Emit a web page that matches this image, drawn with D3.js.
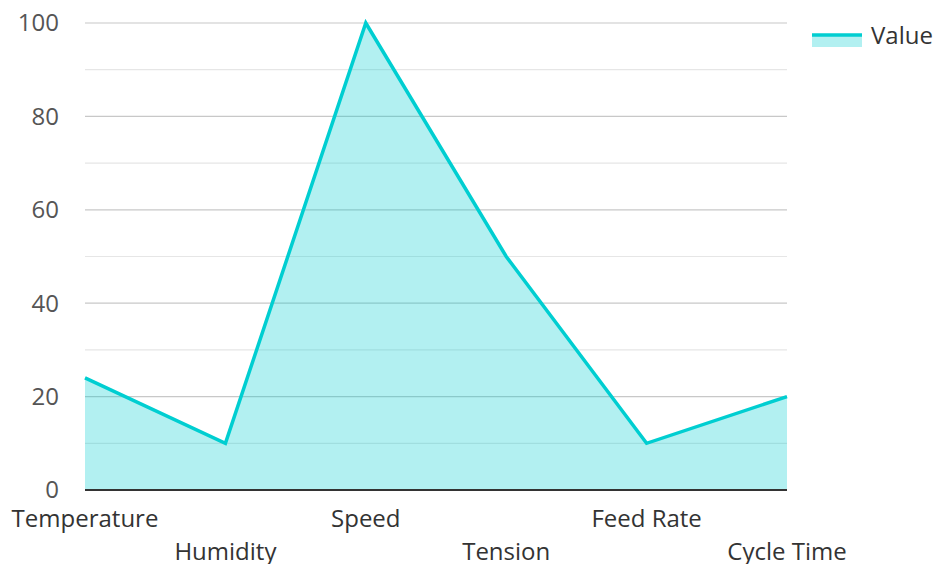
<!DOCTYPE html>
<html><head><meta charset="utf-8">
<script src="https://cdn.jsdelivr.net/npm/d3@7"></script>
<style>body{margin:0;background:#fff;font-family:"Open Sans",sans-serif;}</style>
</head><body><svg id="c" width="937" height="564"></svg>
<script>
const categories = ["Temperature","Humidity","Speed","Tension","Feed Rate","Cycle Time"];
const values = [24,10,100,50,10,20];
const yTicks = [0,20,40,60,80,100];
const yMinor = [10,30,50,70,90];
const seriesName = "Value";

const svg = d3.select("#c");
const m = {l:85, r:150, t:23, b:74};
const W = 937, H = 564;
const x = d3.scalePoint().domain(categories).range([m.l, W-m.r]);
const y = d3.scaleLinear().domain([0,100]).range([H-m.b, m.t]);
const color = "#00CED1";

const g = svg.append("g");
g.selectAll(".minor").data(yMinor).join("line")
 .attr("x1", m.l).attr("x2", W-m.r).attr("y1", d=>y(d)).attr("y2", d=>y(d))
 .attr("stroke","#e6e6e6").attr("stroke-width",1.2);
g.selectAll(".major").data(yTicks.filter(d=>d>0)).join("line")
 .attr("x1", m.l).attr("x2", W-m.r).attr("y1", d=>y(d)).attr("y2", d=>y(d))
 .attr("stroke","#c8c8c8").attr("stroke-width",1.2);

const data = categories.map((c,i)=>({c, v:values[i]}));
g.append("path").datum(data)
 .attr("d", d3.area().x(d=>x(d.c)).y0(y(0)).y1(d=>y(d.v)))
 .attr("fill", color).attr("fill-opacity",0.3);
g.append("path").datum(data)
 .attr("d", d3.line().x(d=>x(d.c)).y(d=>y(d.v)))
 .attr("fill","none").attr("stroke", color).attr("stroke-width",3.5).attr("stroke-linejoin","miter");

g.append("line").attr("x1", m.l).attr("x2", W-m.r).attr("y1", y(0)).attr("y2", y(0))
 .attr("stroke","#333").attr("stroke-width",2);

g.selectAll(".yl").data(yTicks).join("text")
 .attr("x", 59).attr("y", d=>y(d)).attr("dy","0.35em").attr("text-anchor","end")
 .attr("font-size",24).attr("fill","#555").text(d=>d);

g.selectAll(".xl").data(categories).join("text")
 .attr("x", d=>x(d)).attr("y", (d,i)=> i%2===0 ? 527 : 560).attr("text-anchor","middle")
 .attr("font-size",24).attr("fill","#333").text(d=>d);

const lg = svg.append("g");
lg.append("rect").attr("x",812).attr("y",34).attr("width",50).attr("height",13).attr("fill",color).attr("fill-opacity",0.3);
lg.append("line").attr("x1",812).attr("x2",862).attr("y1",35).attr("y2",35).attr("stroke",color).attr("stroke-width",3.5);
lg.append("text").attr("x",871).attr("y",44).attr("font-size",24).attr("fill","#333").text(seriesName);
</script></body></html>
